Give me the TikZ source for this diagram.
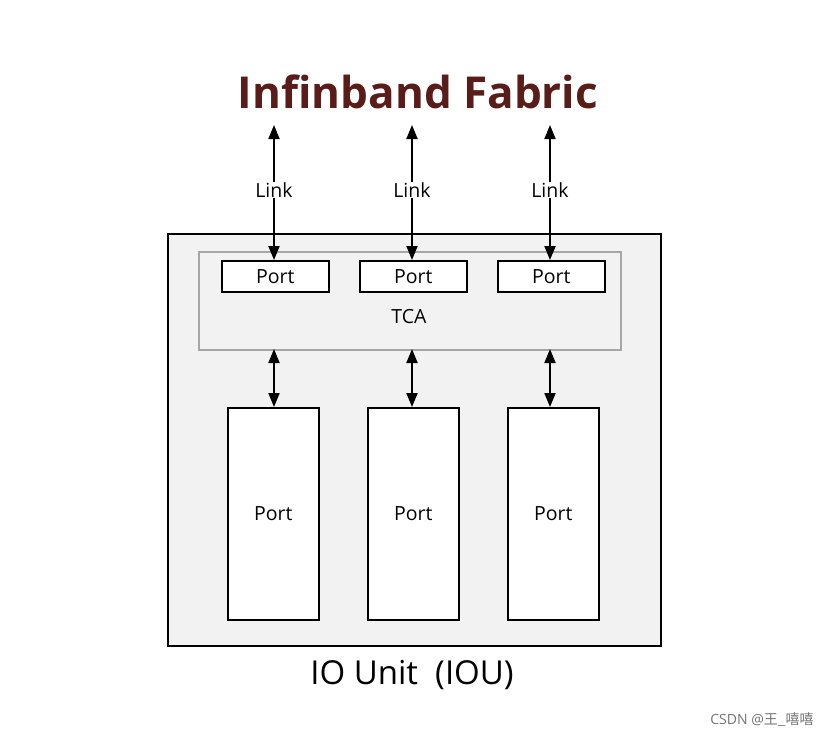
\documentclass[tikz,border=0pt]{standalone}
\usepackage{fontspec}
\setmainfont{Open Sans}
\newfontfamily\cjk{Noto Sans CJK SC}
\usetikzlibrary{arrows.meta}
\definecolor{titlered}{RGB}{90,28,24}
\definecolor{boxfill}{RGB}{242,242,242}
\begin{document}
\begin{tikzpicture}[x=1pt,y=-1pt,
  box/.style={draw=black,line width=1.8pt,inner sep=0pt,anchor=north west},
  arr/.style={{Triangle[length=14pt,width=11pt]}-{Triangle[length=14pt,width=11pt]},line width=2pt},
  lbl/.style={font=\fontsize{19.5}{22}\selectfont}]
\useasboundingbox (0,0) rectangle (836,739);
\node[box,fill=boxfill,minimum width=493pt,minimum height=412pt] (iou) at (167,233) {};
\node[draw=black!35,line width=1.8pt,fill=boxfill,anchor=north west,minimum width=422pt,minimum height=98pt,inner sep=0pt] (tca) at (198,251) {};
\node[lbl] (tcal) at (409,317) {TCA};
\node[font=\bfseries\fontsize{44}{50}\selectfont,text=titlered] (title) at (418,92) {Infinband Fabric};
\node[font=\fontsize{33}{38}\selectfont] (iouL) at (412,675) {IO Unit\ \ (IOU)};
\node[font=\fontsize{14}{16}\selectfont,text=black!55] (wm) at (762,720) {CSDN @{\cjk 王\_嘻嘻}};
\foreach \i/\sx/\bx/\ax in {1/221/227/274,2/359/367/412,3/497/507/550}{
  \node[box,fill=white,minimum width=107pt,minimum height=31pt] (sp\i) at (\sx,260) {};
  \node[lbl] at (sp\i.center) {Port};
  \node[box,fill=white,minimum width=91pt,minimum height=212pt] (bp\i) at (\bx,407) {};
  \node[lbl] at (bp\i.center) {Port};
  \coordinate (top\i) at (\ax,125);
  \draw[arr] (top\i) -- (\ax,260);
  \node[lbl,fill=white,inner sep=1pt] (link\i) at (\ax,190) {Link};
  \coordinate (tb\i) at (\ax,349);
  \draw[arr] (tb\i) -- (bp\i.north -| tb\i);
}
\end{tikzpicture}
\end{document}
